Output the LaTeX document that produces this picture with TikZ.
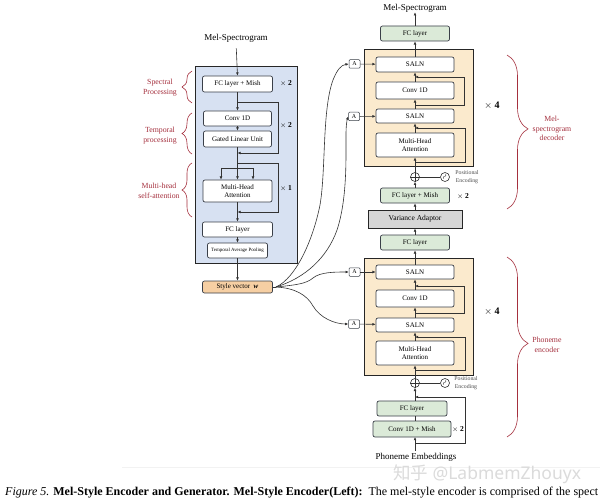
\documentclass[tikz,border=0pt]{standalone}
\usepackage{fontspec}
\setmainfont{Liberation Serif}
\newfontfamily\cjk{Noto Sans CJK SC}
\usetikzlibrary{arrows.meta,decorations.pathreplacing}
\definecolor{encblue}{HTML}{D7E1F2}
\definecolor{genorange}{HTML}{FBEACD}
\definecolor{fcgreen}{HTML}{DBEAD8}
\definecolor{styletan}{HTML}{F6CFA3}
\definecolor{adaptgray}{HTML}{D6D6D6}
\definecolor{notered}{HTML}{A5303E}
\definecolor{edgegray}{HTML}{3A3F48}
\tikzset{
  >={Latex[length=3.2pt,width=2.8pt]},
  block/.style={draw=edgegray,line width=.7pt,fill=white,rounded corners=2pt,inner sep=0pt,font=\fontsize{7}{8.5}\selectfont,align=center},
  greenblock/.style={block,fill=fcgreen},
  panel/.style={draw=black!85,line width=1pt,inner sep=0pt},
  small/.style={draw=edgegray,line width=.5pt,fill=white,rounded corners=1pt,inner sep=0pt,minimum width=11pt,minimum height=8.5pt,font=\fontsize{6}{6}\selectfont},
  flow/.style={black!80,line width=.6pt},
  word/.style={inner sep=0pt,font=\fontsize{9}{9}\selectfont},
  times/.style={inner sep=0pt,font=\fontsize{7.5}{8}\selectfont\bfseries},
  note/.style={inner sep=0pt,text=notered,align=center,font=\fontsize{7.8}{9.6}\selectfont},
  posenc/.style={inner sep=0pt,text=black!70,align=center,font=\fontsize{5.8}{7.4}\selectfont},
  ring/.style={circle,draw=black!80,line width=.6pt,fill=white,inner sep=0pt,minimum size=9pt},
  notebrace/.style={draw=notered,line width=.6pt,decorate,decoration={brace,amplitude=#1}},
}
\begin{document}
\begin{tikzpicture}[x=1pt,y=-1pt]

\useasboundingbox (0,0) rectangle (600,500);

\fill[white] (0,0) rectangle (600,500);
\draw[black!5] (122,467) -- (600,467);

% style encoder
\node[panel,fill=encblue,minimum width=102pt,minimum height=196pt] (encoder) at (246,165) {};

\node[word] (melin) at (236,38) {Mel-Spectrogram};
\node[block,minimum width=70pt,minimum height=16pt] (fcmish) at (237.5,84) {FC layer + Mish};
\node[block,minimum width=68pt,minimum height=15pt] (conv) at (237.5,118.5) {Conv 1D};
\node[block,minimum width=68pt,minimum height=16pt] (glu) at (237.5,139) {Gated Linear Unit};
\node[block,minimum width=69pt,minimum height=22pt] (attn) at (237.5,191) {Multi-Head\\Attention};
\node[block,minimum width=70pt,minimum height=15pt] (fclast) at (237.5,229.5) {FC layer};
\node[block,minimum width=60pt,minimum height=15pt,font=\fontsize{4.9}{5}\selectfont] (pool) at (237.5,250.5) {Temporal Average Pooling};
\node[block,fill=styletan,minimum width=70pt,minimum height=12pt] (style) at (237.5,287) {Style vector~~\textbf{\textit{w}}};

\draw[flow,->,shorten <=6pt] (melin.south) -- (fcmish.north);
\draw[flow,->] (fcmish) -- (conv);
\draw[flow,->] (conv) -- (glu);
\draw[flow,->] (glu) -- (attn);
\draw[flow,->] (attn) -- (fclast);
\draw[flow,->] (fclast) -- (pool);
\draw[flow,->] (pool) -- (style);

\coordinate (skipa) at (237.5,102);
\coordinate (joina) at (237.5,153);
\coordinate (skipb) at (237.5,163);
\coordinate (joinb) at (237.5,212);
\coordinate (splitl) at (221,168);
\coordinate (splitr) at (253,168);
\draw[flow,->] (skipa) -- (278,102) -- (278,153) -- (joina);
\draw[flow,->] (skipb) -- (278,163) -- (278,212) -- (joinb);
\draw[flow,->] (splitl) -- (splitl|-attn.north);
\draw[flow,->] (splitr) -- (splitr|-attn.north);
\draw[flow] (splitl) -- (splitr);

\node[times] (xa) at (286,83) {$\times$ 2};
\node[times] (xb) at (286,125) {$\times$ 2};
\node[times] (xc) at (286,188) {$\times$ 1};

\node[note] (spectral) at (160,87.5) {Spectral\\Processing};
\node[note] (temporal) at (160,135.5) {Temporal\\processing};
\node[note] (selfattn) at (159,191) {Multi-head\\self-attention};
\draw[notebrace=10pt] (192,103) -- (192,71);
\draw[notebrace=10pt] (192,154) -- (192,113);
\draw[notebrace=10pt] (192,217) -- (192,163);

% decoder
\node[panel,fill=genorange,minimum width=109pt,minimum height=117pt] (decoder) at (418.5,108.5) {};

\node[word] (melout) at (415,8) {Mel-Spectrogram};
\node[greenblock,minimum width=69pt,minimum height=15pt] (fcout) at (415,33.5) {FC layer};
\node[block,minimum width=78pt,minimum height=15pt] (salna) at (415,64.5) {SALN};
\node[block,minimum width=78pt,minimum height=17pt] (conva) at (415,90.5) {Conv 1D};
\node[block,minimum width=78pt,minimum height=14pt] (salnb) at (415,116) {SALN};
\node[block,minimum width=78pt,minimum height=24pt] (attna) at (415,145) {Multi-Head\\Attention};
\node[ring] (plusa) at (415,177) {};
\node[ring] (sina) at (445,177) {};
\node[rotate=60,inner sep=0pt,font=\fontsize{7}{7}\selectfont] (sinea) at (sina) {$\sim$};
\node[posenc] (posa) at (467,177) {Positional\\Encoding};
\node[greenblock,minimum width=69pt,minimum height=15pt] (fcmisha) at (415,195.5) {FC layer + Mish};
\node[block,panel,sharp corners,fill=adaptgray,minimum width=94pt,minimum height=18pt,font=\fontsize{7.5}{8}\selectfont] (adaptor) at (415,219) {Variance Adaptor};
\node[greenblock,minimum width=69pt,minimum height=15pt] (fcmid) at (415,242.5) {FC layer};

\draw[flow,->] (fcout) -- (melout);
\draw[flow,->] (salna) -- (fcout);
\draw[flow,->] (conva) -- (salna);
\draw[flow,->] (salnb) -- (conva);
\draw[flow,->] (attna) -- (salnb);
\draw[flow,->] (plusa) -- (attna);
\draw[flow,->] (fcmisha) -- (plusa);
\draw[flow,->] (adaptor) -- (fcmisha);
\draw[flow,->] (fcmid) -- (adaptor);
\draw[flow] (plusa.north) -- (plusa.south) (plusa.west) -- (plusa.east);
\draw[flow] (plusa) -- (sina);

\coordinate (skipc) at (415,105);
\coordinate (joinc) at (415,77);
\coordinate (skipd) at (415,162);
\coordinate (joind) at (415,128);
\draw[flow,->] (skipc) -- (464,105) -- (464,77) -- (joinc);
\draw[flow,->] (skipd) -- (465,162) -- (465,128) -- (joind);

\node[times,font=\fontsize{10}{10}\selectfont\bfseries] (xd) at (492,106) {$\times$ 4};
\node[times] (xe) at (463,196) {$\times$ 2};

% phoneme encoder
\node[panel,fill=genorange,minimum width=109pt,minimum height=117pt] (phoneme) at (418.5,316.5) {};

\node[block,minimum width=78pt,minimum height=14pt] (salnc) at (415,272) {SALN};
\node[block,minimum width=78pt,minimum height=17pt] (convb) at (415,298.5) {Conv 1D};
\node[block,minimum width=78pt,minimum height=14pt] (salnd) at (415,325) {SALN};
\node[block,minimum width=78pt,minimum height=24pt] (attnb) at (415,353) {Multi-Head\\Attention};
\node[ring] (plusb) at (415,383) {};
\node[ring] (sinb) at (445,383) {};
\node[rotate=60,inner sep=0pt,font=\fontsize{7}{7}\selectfont] (sineb) at (sinb) {$\sim$};
\node[posenc] (posb) at (466,383) {Positional\\Encoding};
\node[greenblock,minimum width=70pt,minimum height=15pt] (fcin) at (412,408.5) {FC layer};
\node[greenblock,minimum width=78pt,minimum height=16pt] (convin) at (412,429) {Conv 1D + Mish};
\node[word] (phon) at (416,457) {Phoneme Embeddings};
\coordinate (fcintop) at (415,401);
\coordinate (fcinbot) at (415,416);
\coordinate (convtop) at (415,421);
\coordinate (convbot) at (415,437);
\coordinate (phontop) at (415,451);

\draw[flow,->] (salnc) -- (fcmid);
\draw[flow,->] (convb) -- (salnc);
\draw[flow,->] (salnd) -- (convb);
\draw[flow,->] (attnb) -- (salnd);
\draw[flow,->] (plusb) -- (attnb);
\draw[flow,->] (fcintop) -- (plusb);
\draw[flow] (fcinbot) -- (convtop);
\draw[flow,->] (phontop) -- (convbot);
\draw[flow] (plusb.north) -- (plusb.south) (plusb.west) -- (plusb.east);
\draw[flow] (plusb) -- (sinb);

\coordinate (skipe) at (415,313);
\coordinate (joine) at (415,286);
\coordinate (skipf) at (415,370);
\coordinate (joinf) at (415,337);
\coordinate (skipg) at (415,443);
\coordinate (joing) at (415,397);
\draw[flow,->] (skipe) -- (464,313) -- (464,286) -- (joine);
\draw[flow,->] (skipf) -- (465,370) -- (465,337) -- (joinf);
\draw[flow,->] (skipg) -- (465,443) -- (465,397) -- (joing);

\node[times,font=\fontsize{10}{10}\selectfont\bfseries] (xf) at (492,312) {$\times$ 4};
\node[times] (xg) at (458,429) {$\times$ 2};

% style vector into the SALN blocks
\node[small] (aa) at (354.5,64) {A};
\node[small] (ab) at (354,116.5) {A};
\node[small] (ac) at (354.5,272) {A};
\node[small] (ad) at (354,324) {A};
\coordinate (hub) at (276,287);

\draw[flow] (style.east) -- (hub);
\draw[flow,->] (hub) .. controls (296,278) and (313,240) .. (320,205) .. controls (326,170) and (322,110) .. (333,80) .. controls (337,70) and (341,65) .. (aa.west);
\draw[flow,->] (hub) .. controls (305,278) and (327,258) .. (337,230) .. controls (347,200) and (346,160) .. (346,135) .. controls (346,125) and (347,120) .. (ab.west);
\draw[flow,->] (hub) .. controls (295,285) and (306,284) .. (313,278) .. controls (320,272) and (335,272) .. (ac.west);
\draw[flow,->] (hub) .. controls (295,288) and (307,295) .. (313,306) .. controls (320,318) and (335,324) .. (ad.west);

\draw[flow,->] (aa) -- (salna);
\draw[flow,->] (ab) -- (salnb);
\draw[flow,->] (ac) -- (salnc);
\draw[flow,->] (ad) -- (salnd);

% right side notes
\draw[notebrace=21pt,decoration={aspect=.48}] (507,55) -- (507,209);
\draw[notebrace=21pt,decoration={aspect=.48}] (507,257) -- (507,437);
\node[note] (melnote) at (552,128.5) {Mel-\\spectrogram\\decoder};
\node[note] (phonnote) at (547,345) {Phoneme\\encoder};

\node[inner sep=0pt,anchor=base west,font=\fontsize{17.5}{18}\selectfont,text=black!14] (mark) at (393,479) {{\cjk 知乎} {\fontspec{Noto Sans}@LabmemZhouyx}};
\node[inner sep=0pt,anchor=base west,font=\fontsize{12}{12}\selectfont] (caption) at (5,495.5) {\textit{Figure 5.} \textbf{Mel-Style Encoder and Generator. Mel-Style Encoder(Left):}~~The mel-style encoder is comprised of the spect};

\end{tikzpicture}
\end{document}
